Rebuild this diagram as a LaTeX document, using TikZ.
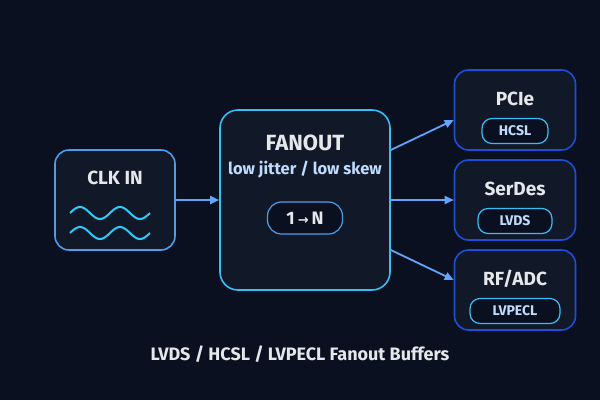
\documentclass[tikz,border=0pt]{standalone}
\usepackage{fontspec}
\setmainfont{Fira Sans}
\newfontfamily\symfont{DejaVu Sans}
\usetikzlibrary{arrows.meta,positioning}
\definecolor{bgdark}{HTML}{0B1020}
\definecolor{boxfill}{HTML}{111827}
\definecolor{clkblue}{HTML}{4A9EED}
\definecolor{fanblue}{HTML}{38BDF8}
\definecolor{outblue}{HTML}{1D4ED8}
\definecolor{arrowblue}{HTML}{60A5FA}
\definecolor{txtlight}{HTML}{E5E7EB}
\definecolor{subtxt}{HTML}{BFDBFE}

\begin{document}
\begin{tikzpicture}[
        x=1pt, y=-1pt,
        box/.style={draw, line width=1.6pt, rounded corners=14pt, fill=boxfill, text=txtlight},
        pill/.style={draw=fanblue, line width=1.2pt, rounded corners=10pt, fill=bgdark, text=subtxt, font=\bfseries\fontsize{14}{16}\selectfont, minimum height=25pt, inner sep=0pt},
        arrow/.style={-{Triangle[length=9pt,width=8pt]}, line width=1.8pt, arrowblue}
    ]
        \fill[bgdark] (0,0) rectangle (600,400);

        % Input
        \node[box, draw=clkblue, minimum width=120pt, minimum height=100pt] (clk) at (115,200) {};
        \node[font=\bfseries\fontsize{19}{22}\selectfont, text=txtlight] (clklbl) at (115,178) {CLK IN};
        \draw[line width=2pt, fanblue!80!cyan, domain=0:80, samples=60, smooth]
            plot ({70+\x}, {213-6*sin(\x*9)});
        \draw[line width=2pt, fanblue!80!cyan, domain=0:80, samples=60, smooth]
            plot ({70+\x}, {233-6*sin(\x*9)});

        % Fanout
        \node[box, draw=fanblue, rounded corners=18pt, minimum width=170pt, minimum height=180pt] (fan) at (305,200) {};
        \node[font=\bfseries\fontsize{22}{26}\selectfont, text=txtlight] (fanlbl) at (305,143) {FANOUT};
        \node[font=\bfseries\fontsize{16.5}{19}\selectfont, text=subtxt] (fansub) at (305,170) {low jitter / low skew};
        \node[pill, draw=clkblue, text=txtlight, minimum width=75pt, minimum height=32pt, rounded corners=14pt, font=\bfseries\fontsize{18}{20}\selectfont] (ratio) at (305,218) {1\,{\symfont\fontsize{13}{15}\selectfont→}\,N};

        % Outputs
        \node[box, draw=outblue, minimum width=121pt, minimum height=80pt] (pcie) at (515,110) {};
        \node[font=\bfseries\fontsize{19}{22}\selectfont, text=txtlight] at (515,99) {PCIe};
        \node[pill, minimum width=66pt] (hcsl) at (515,131) {HCSL};

        \node[box, draw=outblue, minimum width=121pt, minimum height=80pt] (serdes) at (515,200) {};
        \node[font=\bfseries\fontsize{19}{22}\selectfont, text=txtlight] at (515,189) {SerDes};
        \node[pill, minimum width=74pt] (lvds) at (515,221) {LVDS};

        \node[box, draw=outblue, minimum width=121pt, minimum height=80pt] (rfadc) at (515,290) {};
        \node[font=\bfseries\fontsize{19}{22}\selectfont, text=txtlight] at (515,279) {RF/ADC};
        \node[pill, minimum width=90pt] (lvpecl) at (515,311) {LVPECL};

        % Arrows
        \draw[arrow] (clk.east) -- (fan.west);
        \draw[arrow] (fan.east |- 0,150) -- (pcie.west |- 0,120);
        \draw[arrow] (fan.east) -- (serdes.west);
        \draw[arrow] (fan.east |- 0,250) -- (rfadc.west |- 0,280);

        % Caption
        \node[font=\bfseries\fontsize{18}{21}\selectfont, text=txtlight] (title) at (300,354) {LVDS / HCSL / LVPECL Fanout Buffers};
    \end{tikzpicture}
\end{document}
